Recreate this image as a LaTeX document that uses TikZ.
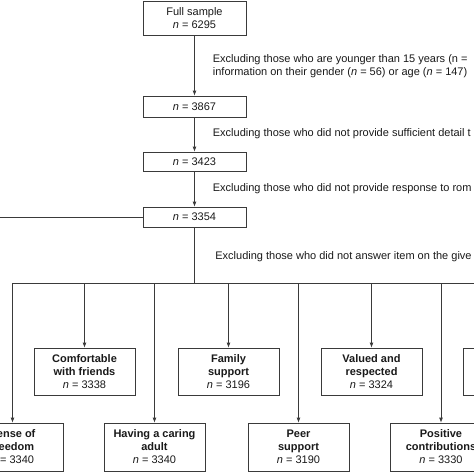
\documentclass[tikz,border=0pt]{standalone}
\usepackage{fontspec}
\setmainfont{Liberation Sans}
\usetikzlibrary{arrows.meta}
\definecolor{linec}{HTML}{3A3A3A}
\definecolor{textc}{HTML}{1A1A1A}
\begin{document}
\begin{tikzpicture}[x=1pt,y=-1pt,line width=0.8pt,
  box/.style={draw=linec,rectangle,inner sep=0pt,align=center,text=textc,
    font=\fontsize{11}{13}\selectfont},
  stagebox/.style={box,minimum width=103pt},
  outbox/.style={box,minimum width=101pt,minimum height=47pt,
    font=\fontsize{11}{13}\selectfont\bfseries},
  note/.style={anchor=west,inner sep=0pt,align=left,text=textc,
    font=\fontsize{11}{13}\selectfont},
  conn/.style={draw=linec},
  arr/.style={draw=linec,-{Latex[length=5pt,width=4pt]}}]
\useasboundingbox (0,0) rectangle (474,474);
\clip (0,0) rectangle (474,474);
\fill[white] (0,0) rectangle (474,474);

% main stages
\node[stagebox,minimum height=34pt] (full) at (194.5,18) {Full sample\\\textit{n} = 6295};
\node[stagebox,minimum height=21pt] (s1) at (194.5,106.5) {\textit{n} = 3867};
\node[stagebox,minimum height=19pt] (s2) at (194.5,161.5) {\textit{n} = 3423};
\node[stagebox,minimum height=20pt] (s3) at (194.5,217) {\textit{n} = 3354};

\draw[arr] (full.south) -- (s1.north);
\draw[arr] (s1.south) -- (s2.north);
\draw[arr] (s2.south) -- (s3.north);

% exclusion notes
\node[note] (e1) at (212.5,66.5) {Excluding those who are younger than 15 years (n =\\information on their gender (\textit{n} = 56) or age (\textit{n} = 147)};
\node[note] (e2) at (212.5,134) {Excluding those who did not provide sufficient detail t};
\node[note] (e3) at (212.5,189) {Excluding those who did not provide response to rom};
\node[note] (e4) at (215,257) {Excluding those who did not answer item on the give};

% left branch
\coordinate (leftend) at (0,217);
\draw[conn] (leftend) -- (s3.west);

% split bus
\coordinate (split) at (194.5,283);
\coordinate (busL) at (12.5,283);
\coordinate (busR) at (520,283);
\draw[conn] (s3.south) -- (split);
\draw[conn] (busL) -- (busR);

% outcome boxes, upper row
\node[outbox] (comf) at (84.5,371.5) {Comfortable\\with friends\\\normalfont\textit{n} = 3338};
\node[outbox] (fam) at (228.5,371.5) {Family\\support\\\normalfont\textit{n} = 3196};
\node[outbox] (val) at (371.5,371.5) {Valued and\\respected\\\normalfont\textit{n} = 3324};
\node[outbox] (hid) at (514,371.5) {};

% outcome boxes, lower row
\node[outbox,minimum height=48pt] (free) at (12.5,447) {Sense of\\freedom\\\normalfont\textit{n} = 3340};
\node[outbox,minimum height=48pt] (care) at (154.5,447) {Having a caring\\adult\\\normalfont\textit{n} = 3340};
\node[outbox,minimum height=48pt] (peer) at (298.5,447) {Peer\\support\\\normalfont\textit{n} = 3190};
\node[outbox,minimum height=48pt] (pos) at (441,447) {Positive\\contributions\\\normalfont\textit{n} = 3330};

\foreach \b in {comf,fam,val,hid,free,care,peer,pos}{
  \draw[arr] (\b.north |- split) -- (\b.north);
}
\end{tikzpicture}
\end{document}
